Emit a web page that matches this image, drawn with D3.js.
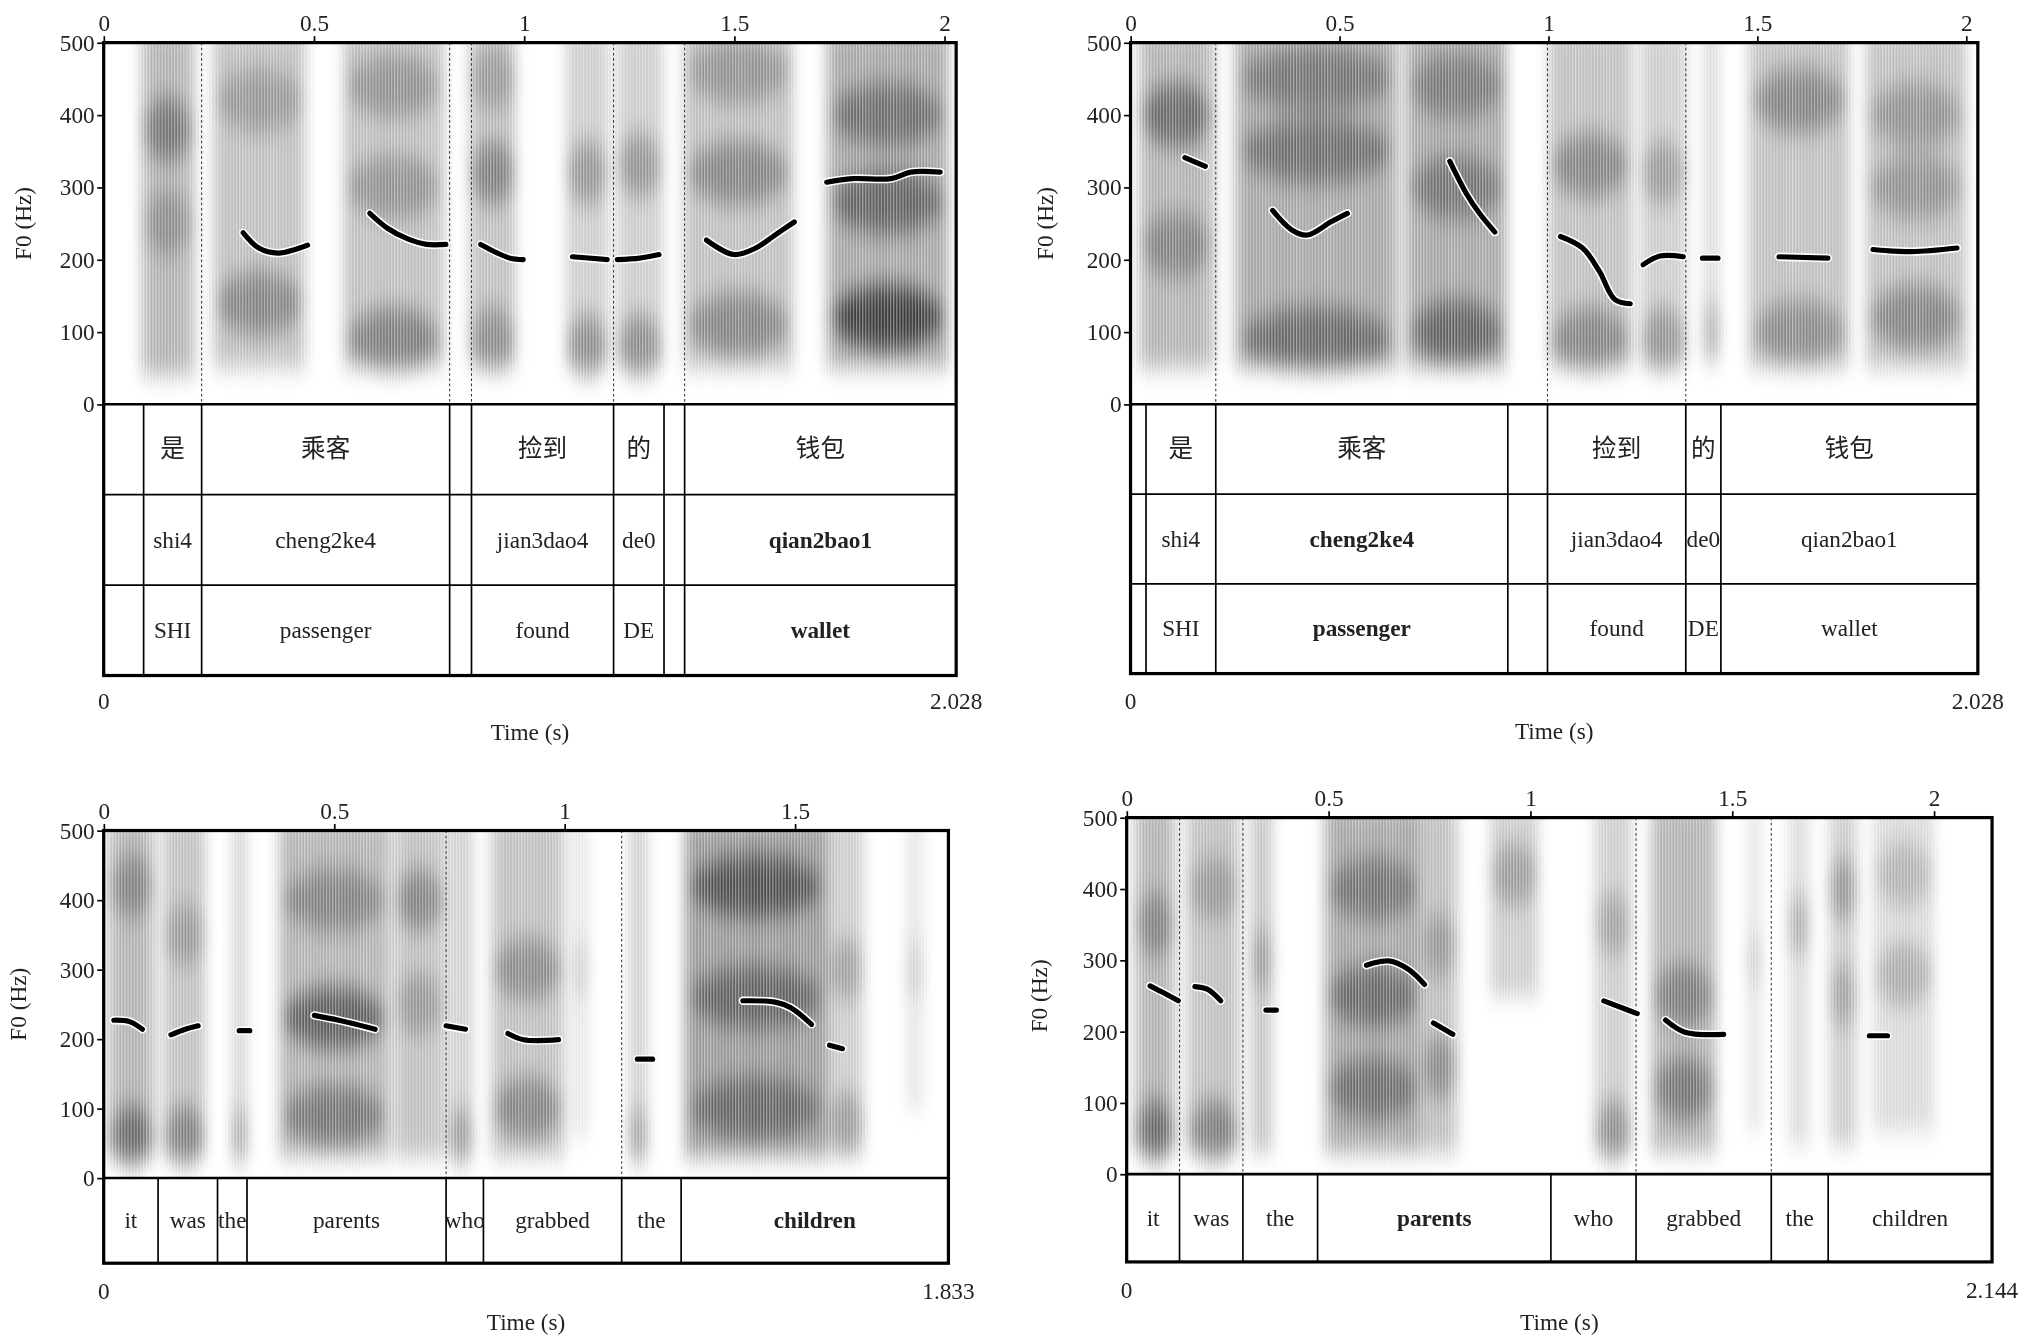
<!DOCTYPE html><html><head><meta charset="utf-8">
<script src="https://cdn.jsdelivr.net/npm/d3@7"></script>
<style>body{margin:0;background:#fff}svg text{font-family:"Liberation Serif","Noto Sans CJK SC",serif;}</style>
</head><body><svg id="c" width="2026" height="1342" viewBox="0 0 1568 1039"></svg>
<script>
// ---------- DATA ----------
const durations = [2.028, 2.028, 1.833, 2.144];
const topTicks = [[0,0.5,1,1.5,2],[0,0.5,1,1.5,2],[0,0.5,1,1.5],[0,0.5,1,1.5,2]];
const f0Ticks = [0,100,200,300,400,500];
// tier boundaries (s)
const bounds1 = [0,0.095,0.233,0.823,0.875,1.213,1.333,1.382,2.028];
const bounds2 = [0,0.037,0.204,0.903,0.998,1.329,1.413,2.028];
const bounds3 = [0,0.118,0.247,0.311,0.743,0.824,1.124,1.253,1.833];
const bounds4 = [0,0.131,0.288,0.473,1.051,1.262,1.597,1.738,2.144];
const dashed1 = [0.233,0.823,0.875,1.213,1.382];
const dashed2 = [0.204,0.998,1.329];
const dashed3 = [0.743,1.124];
const dashed4 = [0.131,0.288,1.262,1.597];
// tier labels per interval
const hanzi1 = ["","是","乘客","","捡到","的","","钱包"];
const pinyin1 = ["","shi4","cheng2ke4","","jian3dao4","de0","","qian2bao1"];
const gloss1 = ["","SHI","passenger","","found","DE","","wallet"];
const bold1 = [7];
const hanzi2 = ["","是","乘客","","捡到","的","钱包"];
const pinyin2 = ["","shi4","cheng2ke4","","jian3dao4","de0","qian2bao1"];
const gloss2 = ["","SHI","passenger","","found","DE","wallet"];
const bold2 = [2];
const words3 = ["it","was","the","parents","who","grabbed","the","children"];
const bold3 = [7];
const words4 = ["it","was","the","parents","who","grabbed","the","children"];
const bold4 = [3];
// F0 contours: [time s, Hz]
const f0_1 = [
 [[.332,237],[.369,216],[.415,209],[.455,214],[.485,220]],
 [[.633,264],[.676,243],[.722,229],[.768,221],[.814,221]],
 [[.897,221],[.937,209],[.967,202],[.998,200]],
 [[1.115,204],[1.198,200]],
 [[1.222,200],[1.275,202],[1.321,207]],
 [[1.434,227],[1.499,207],[1.551,216],[1.597,234],[1.643,252]],
 [[1.720,307],[1.781,312],[1.873,312],[1.920,321],[1.99,321]]];
const f0_2 = [
 [[.13,341],[.179,329]],
 [[.34,268],[.386,241],[.423,234],[.479,252],[.519,264]],
 [[.764,336],[.804,291],[.835,264],[.872,238]],
 [[1.029,232],[1.082,216],[1.122,184],[1.159,145],[1.196,139]],
 [[1.227,193],[1.267,205],[1.323,204]],
 [[1.369,202],[1.406,202]],
 [[1.552,204],[1.669,202]],
 [[1.777,214],[1.870,211],[1.978,216]]];
const f0_3 = [
 [[.022,227],[.056,225],[.084,214]],
 [[.146,206],[.177,214],[.205,219]],
 [[.294,212],[.317,212]],
 [[.457,234],[.51,227],[.589,214]],
 [[.743,219],[.785,214]],
 [[.877,208],[.911,199],[.987,199]],
 [[1.158,171],[1.191,171]],
 [[1.387,255],[1.457,253],[1.491,245],[1.536,221]],
 [[1.575,191],[1.603,186]]];
const f0_4 = [
 [[.058,264],[.089,255],[.128,243]],
 [[.169,263],[.201,259],[.233,243]],
 [[.345,230],[.371,230]],
 [[.594,293],[.649,299],[.696,288],[.738,266]],
 [[.760,212],[.808,196]],
 [[1.182,243],[1.265,225]],
 [[1.335,216],[1.383,199],[1.479,196]],
 [[1.840,194],[1.885,194]]];
// spectrogram voiced segments: [t0, t1, lowest Hz, base darkness, formant bands [Hz, darkness]]
const spec1 = [
 [.09,.215,40,.3,[[380,.5],[250,.3]]],[.26,.48,50,.25,[[140,.45],[420,.3]]],
 [.57,.81,50,.25,[[90,.5],[300,.35],[440,.35]]],[.87,.98,50,.25,[[90,.4],[320,.5],[450,.3]]],
 [1.10,1.20,50,.2,[[80,.45],[320,.4]]],[1.22,1.33,50,.2,[[80,.45],[330,.4]]],
 [1.38,1.64,50,.25,[[110,.45],[320,.45],[460,.35]]],[1.72,2.01,50,.35,[[120,.9],[280,.6],[400,.5]]]];
const spec2 = [
 [.02,.2,50,.3,[[400,.6],[220,.4]]],[.25,.64,50,.35,[[90,.55],[350,.5],[450,.45]]],
 [.66,.9,50,.35,[[100,.6],[300,.45],[440,.4]]],[1.0,1.2,50,.25,[[90,.45],[330,.45]]],
 [1.22,1.33,50,.2,[[90,.4],[320,.35]]],[1.37,1.41,60,.15,[[100,.3]]],
 [1.48,1.72,50,.25,[[100,.4],[420,.45]]],[1.76,2.0,50,.25,[[120,.45],[300,.35],[400,.35]]]];
const spec3 = [
 [.01,.11,30,.3,[[60,.6],[420,.4]]],[.13,.22,30,.25,[[60,.5],[350,.3]]],[.28,.31,30,.2,[[60,.4]]],
 [.38,.62,30,.3,[[90,.5],[230,.7],[400,.4]]],[.63,.74,30,.25,[[400,.45],[250,.3]]],
 [.75,.80,30,.2,[[60,.4]]],[.84,1.0,30,.25,[[100,.45],[300,.4]]],[1.02,1.05,60,.12,[[300,.2]]],
 [1.14,1.18,30,.2,[[60,.35]]],[1.26,1.57,30,.4,[[420,.7],[260,.55],[100,.5]]],
 [1.57,1.65,30,.2,[[80,.35],[300,.3]]],[1.74,1.78,100,.1,[[300,.15]]]];
const spec4 = [
 [.02,.12,30,.3,[[60,.6],[350,.4]]],[.15,.28,30,.25,[[60,.5],[400,.3]]],[.31,.36,30,.25,[[300,.35]]],
 [.49,.73,30,.35,[[120,.5],[250,.55],[400,.45]]],[.73,.82,30,.25,[[150,.4],[320,.3]]],
 [.90,1.02,250,.2,[[420,.35]]],[1.16,1.25,30,.2,[[60,.45],[350,.3]]],
 [1.30,1.46,30,.3,[[120,.5],[250,.45]]],[1.54,1.57,60,.12,[[300,.2]]],
 [1.64,1.69,40,.15,[[350,.35]]],[1.74,1.81,40,.2,[[400,.4],[250,.3]]],[1.85,2.0,60,.15,[[280,.3],[420,.25]]]];

// ---------- LAYOUT ----------
const panels = [
 {x0:80,x1:740,yT:33,y0:313,rows:3,rowH:70,bounds:bounds1,dashed:dashed1,tiers:[hanzi1,pinyin1,gloss1],bold:bold1,f0:f0_1,spec:spec1,labY:543,timeY:567,yl:62},
 {x0:875,x1:1531,yT:33,y0:313,rows:3,rowH:69.5,bounds:bounds2,dashed:dashed2,tiers:[hanzi2,pinyin2,gloss2],bold:bold2,f0:f0_2,spec:spec2,labY:543,timeY:566,yl:66},
 {x0:80,x1:734,yT:643,y0:912,rows:1,rowH:66,bounds:bounds3,dashed:dashed3,tiers:[words3],bold:bold3,f0:f0_3,spec:spec3,labY:1000,timeY:1024,yl:66},
 {x0:872,x1:1542,yT:633,y0:909,rows:1,rowH:68,bounds:bounds4,dashed:dashed4,tiers:[words4],bold:bold4,f0:f0_4,spec:spec4,labY:999,timeY:1024,yl:68}];

const svg = d3.select("#c");
const defs = svg.append("defs");
defs.append("filter").attr("id","blur").attr("x","-20%").attr("y","-20%").attr("width","140%").attr("height","140%")
 .append("feGaussianBlur").attr("stdDeviation","5 9");
const pat = defs.append("pattern").attr("id","stri").attr("width",2.4).attr("height",10).attr("patternUnits","userSpaceOnUse");
pat.append("rect").attr("width",0.9).attr("height",10).attr("fill","#fff").attr("opacity",0.4);

panels.forEach((p,pi)=>{
  const dur = durations[pi];
  const x = d3.scaleLinear().domain([0,dur]).range([p.x0,p.x1]);
  const y = d3.scaleLinear().domain([0,500]).range([p.y0,p.yT]);
  const g = svg.append("g");
  const clipId="clip"+pi;
  defs.append("clipPath").attr("id",clipId).append("rect").attr("x",p.x0).attr("y",p.yT).attr("width",p.x1-p.x0).attr("height",p.y0-p.yT);
  const sg = g.append("g").attr("clip-path",`url(#${clipId})`);
  const bl = sg.append("g").attr("filter","url(#blur)");
  p.spec.forEach(s=>{
    const [t0,t1,lo,base,forms]=s;
    bl.append("rect").attr("x",x(t0)).attr("width",x(t1)-x(t0)).attr("y",y(500)-10).attr("height",y(lo)-y(500)+10)
      .attr("fill","#000").attr("opacity",base);
    forms.forEach(([f,d])=>{
      bl.append("ellipse").attr("cx",(x(t0)+x(t1))/2).attr("rx",(x(t1)-x(t0))/2*0.9)
        .attr("cy",y(f)).attr("ry",y(0)-y(45)).attr("fill","#000").attr("opacity",d*0.7);
    });
  });
  sg.append("rect").attr("x",p.x0).attr("y",p.yT).attr("width",p.x1-p.x0).attr("height",p.y0-p.yT).attr("fill","url(#stri)");
  p.dashed.forEach(t=>g.append("line").attr("x1",x(t)).attr("x2",x(t)).attr("y1",p.yT).attr("y2",p.y0)
     .attr("stroke","#333").attr("stroke-width",0.8).attr("stroke-dasharray","2,2"));
  const line = d3.line().x(d=>x(d[0])).y(d=>y(d[1])).curve(d3.curveCatmullRom);
  p.f0.forEach(seg=>{
    g.append("path").attr("d",line(seg)).attr("fill","none").attr("stroke","#fff").attr("stroke-width",6.5).attr("stroke-linecap","round");
    g.append("path").attr("d",line(seg)).attr("fill","none").attr("stroke","#000").attr("stroke-width",4).attr("stroke-linecap","round");
  });
  const yB = p.y0 + p.rows*p.rowH;
  for(let r=1;r<p.rows;r++) g.append("line").attr("x1",p.x0).attr("x2",p.x1).attr("y1",p.y0+r*p.rowH).attr("y2",p.y0+r*p.rowH).attr("stroke","#000").attr("stroke-width",1.3);
  p.bounds.slice(1,-1).forEach(t=>g.append("line").attr("x1",x(t)).attr("x2",x(t)).attr("y1",p.y0).attr("y2",yB).attr("stroke","#000").attr("stroke-width",1.3));
  p.tiers.forEach((lab,r)=>{
    lab.forEach((txt,i)=>{
      if(!txt) return;
      g.append("text").attr("x",(x(p.bounds[i])+x(p.bounds[i+1]))/2).attr("y",p.y0+r*p.rowH+p.rowH/2+6)
        .attr("text-anchor","middle").attr("font-size",r===0&&pi<2?19:18)
        .attr("font-weight",p.bold.includes(i)&&!(pi<2&&r===0)?"bold":"normal").attr("fill","#222").text(txt);
    });
  });
  g.append("line").attr("x1",p.x0).attr("x2",p.x1).attr("y1",p.y0).attr("y2",p.y0).attr("stroke","#000").attr("stroke-width",2);
  g.append("rect").attr("x",p.x0).attr("y",p.yT).attr("width",p.x1-p.x0).attr("height",yB-p.yT).attr("fill","none").attr("stroke","#000").attr("stroke-width",2.5);
  const ax = g.append("g").attr("transform",`translate(${p.x0},0)`).call(d3.axisLeft(y).tickValues(f0Ticks).tickSize(5).tickPadding(2));
  const at = g.append("g").attr("transform",`translate(0,${p.yT})`).call(d3.axisTop(x).tickValues(topTicks[pi]).tickSize(5).tickPadding(4).tickFormat(d3.format("")));
  [ax,at].forEach(a=>{a.select(".domain").remove();a.selectAll("text").attr("font-size",18).attr("fill","#222").style("font-family","Liberation Serif");a.selectAll("line").attr("stroke-width",1.3);});
  g.append("text").attr("transform",`translate(${p.x0-p.yl+6},${(p.yT+p.y0)/2}) rotate(-90)`).attr("text-anchor","middle").attr("font-size",18).attr("fill","#222").text("F0 (Hz)");
  g.append("text").attr("x",p.x0).attr("y",p.labY+6).attr("text-anchor","middle").attr("font-size",18).attr("fill","#222").text("0");
  g.append("text").attr("x",p.x1).attr("y",p.labY+6).attr("text-anchor","middle").attr("font-size",18).attr("fill","#222").text(String(dur));
  g.append("text").attr("x",(p.x0+p.x1)/2).attr("y",p.timeY+6).attr("text-anchor","middle").attr("font-size",18).attr("fill","#222").text("Time (s)");
});
</script></body></html>
